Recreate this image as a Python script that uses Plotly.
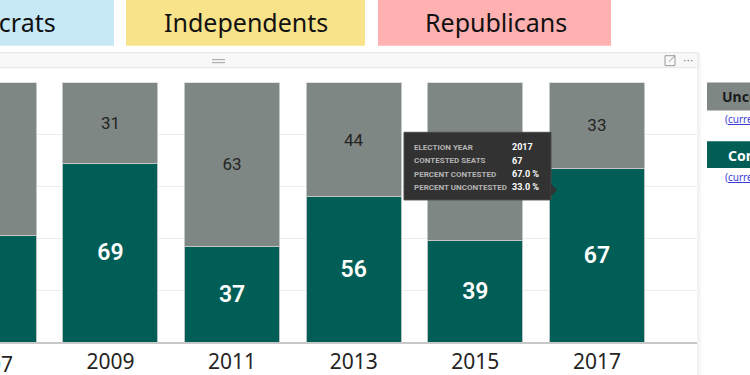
import plotly.graph_objects as go

# ---- data ----
years = [2007, 2009, 2011, 2013, 2015, 2017]
year_labels = ["2007", "2009", "2011", "2013", "2015", "2017"]
contested = [41, 69, 37, 56, 39, 67]
uncontested = [59, 31, 63, 44, 61, 33]
party_labels = ["Democrats", "Independents", "Republicans"]
legend_labels = ["Uncontested", "Contested"]
tooltip_fields = ["ELECTION YEAR", "CONTESTED SEATS", "PERCENT CONTESTED", "PERCENT UNCONTESTED"]

GREEN = "#015e56"
GREY = "#7f8785"
W, H = 750, 375

def px(x):
    return x / W

def py(y):
    return 1 - y / H

x_range = [2007.183, 2018.646]
x_dom = [0, 697 / W]
y_dom = [(H - 344) / H, (H - 83) / H]

fig = go.Figure()
fig.add_trace(go.Bar(
    x=years, y=contested, width=1.5625,
    marker=dict(color=GREEN, line=dict(width=1, color="#b9c4c2")),
    text=[str(v) for v in contested], textposition="inside", insidetextanchor="middle",
    textangle=0, textfont=dict(family="Roboto", size=23, color="white", weight=600),
    hoverinfo="skip", name=legend_labels[1],
))
fig.add_trace(go.Bar(
    x=years, y=uncontested, width=1.5625,
    marker=dict(color=GREY, line=dict(width=1, color="#c3c7c6")),
    text=[str(v) for v in uncontested], textposition="inside", insidetextanchor="middle",
    textangle=0, textfont=dict(family="Roboto", size=17, color="#252423"),
    hoverinfo="skip", name=legend_labels[0],
))

shapes = []
annotations = []

# party header boxes
boxes = [(-126, 114, "#c6e9f5"), (126, 365, "#f8e38a"), (378, 611, "#ffb1b1")]
for (x0, x1, c) in boxes:
    shapes.append(dict(type="rect", xref="paper", yref="paper", x0=px(x0), x1=px(x1),
                       y0=py(46), y1=py(-2), fillcolor=c, line=dict(width=0), layer="below"))
hdr_font = dict(family="Noto Sans", size=25, color="#111")
annotations.append(dict(text=party_labels[0], xref="paper", yref="paper", x=px(58), y=py(22),
                        xanchor="right", yanchor="middle", showarrow=False, font=hdr_font))
annotations.append(dict(text=party_labels[1], xref="paper", yref="paper", x=px(246), y=py(22),
                        xanchor="center", yanchor="middle", showarrow=False, font=hdr_font))
annotations.append(dict(text=party_labels[2], xref="paper", yref="paper", x=px(496), y=py(22),
                        xanchor="center", yanchor="middle", showarrow=False, font=hdr_font))

# visual container
shapes.append(dict(type="rect", xref="paper", yref="paper", x0=px(-3), x1=px(698), y0=py(380), y1=py(53),
                   fillcolor="rgba(0,0,0,0)", line=dict(width=1, color="#e6e6e6"), layer="below"))
shapes.append(dict(type="rect", xref="paper", yref="paper", x0=px(-3), x1=px(698), y0=py(68), y1=py(53),
                   fillcolor="#f8f8f8", line=dict(width=1, color="#e6e6e6"), layer="below"))
# grip icon
for yy in (60, 63):
    shapes.append(dict(type="line", xref="paper", yref="paper", x0=px(212), x1=px(225), y0=py(yy), y1=py(yy),
                       line=dict(width=1, color="#a0a0a0")))
# focus icon
shapes.append(dict(type="rect", xref="paper", yref="paper", x0=px(665), x1=px(675), y0=py(66), y1=py(56),
                   line=dict(width=1, color="#9a9a9a"), fillcolor="rgba(0,0,0,0)"))
shapes.append(dict(type="line", xref="paper", yref="paper", x0=px(669), x1=px(675), y0=py(62), y1=py(56),
                   line=dict(width=1, color="#9a9a9a")))
annotations.append(dict(text="···", xref="paper", yref="paper", x=px(688), y=py(61),
                        xanchor="center", yanchor="middle", showarrow=False,
                        font=dict(family="DejaVu Sans", size=11, color="#777")))

# right-side panel
shapes.append(dict(type="line", xref="paper", yref="paper", x0=px(700), x1=px(700), y0=py(53), y1=py(380),
                   line=dict(width=1, color="#eeeeee")))
shapes.append(dict(type="rect", xref="paper", yref="paper", x0=px(707), x1=px(770), y0=py(111), y1=py(83),
                   fillcolor=GREY, line=dict(width=0)))
shapes.append(dict(type="rect", xref="paper", yref="paper", x0=px(707), x1=px(770), y0=py(169), y1=py(142),
                   fillcolor=GREEN, line=dict(width=0)))
annotations.append(dict(text="<b>" + legend_labels[0] + "</b>", xref="paper", yref="paper", x=px(720), y=py(97),
                        xanchor="left", yanchor="middle", showarrow=False,
                        font=dict(family="Noto Sans", size=14, color="#1a1a1a")))
annotations.append(dict(text="<b>" + legend_labels[1] + "</b>", xref="paper", yref="paper", x=px(726), y=py(156),
                        xanchor="left", yanchor="middle", showarrow=False,
                        font=dict(family="Noto Sans", size=14, color="white")))
for yy in (120, 178):
    annotations.append(dict(text="(<u>current year</u>)", xref="paper", yref="paper", x=px(723), y=py(yy),
                            xanchor="left", yanchor="middle", showarrow=False,
                            font=dict(family="Noto Sans", size=10, color="#3b3bd6")))

# 2007 tick label (left of the visible range)
x07 = x_dom[0] + (years[0] - x_range[0]) / (x_range[1] - x_range[0]) * (x_dom[1] - x_dom[0])
annotations.append(dict(text=year_labels[0], xref="paper", yref="paper", x=x07, y=py(366),
                        xanchor="center", yanchor="middle", showarrow=False,
                        font=dict(family="Noto Sans", size=21, color="#252423")))

# tooltip for 2017
i = years.index(2017)
vals = [str(years[i]), str(contested[i]), f"{contested[i]:.1f} %", f"{uncontested[i]:.1f} %"]
shapes.append(dict(type="rect", xref="paper", yref="paper", x0=px(404), x1=px(551), y0=py(201), y1=py(133),
                   fillcolor="#323232", line=dict(width=1, color="#4a4a4a")))
shapes.append(dict(type="path", xref="paper", yref="paper",
                   path=f"M {px(551)} {py(185)} L {px(557)} {py(191)} L {px(551)} {py(197)} Z",
                   fillcolor="#323232", line=dict(width=0)))
row_y = [148, 161.5, 175, 188.5]
for lab, v, yy in zip(tooltip_fields, vals, row_y):
    annotations.append(dict(text=lab, xref="paper", yref="paper", x=px(412), y=py(yy),
                            xanchor="left", yanchor="middle", showarrow=False,
                            font=dict(family="Roboto", size=8, color="#b4b4b4", weight="bold")))
    annotations.append(dict(text="<b>" + v + "</b>", xref="paper", yref="paper", x=px(510), y=py(yy),
                            xanchor="left", yanchor="middle", showarrow=False,
                            font=dict(family="Roboto", size=9, color="white")))

fig.update_layout(
    width=W, height=H, margin=dict(l=0, r=0, t=0, b=0),
    paper_bgcolor="white", plot_bgcolor="white",
    barmode="stack", showlegend=False,
    shapes=shapes, annotations=annotations,
    xaxis=dict(domain=x_dom, range=x_range, tickvals=years, ticktext=year_labels,
               showgrid=False, showline=True, linecolor="#c8c8c8", linewidth=2,
               ticks="", tickfont=dict(family="Noto Sans", size=21, color="#252423"),
               fixedrange=True),
    yaxis=dict(domain=y_dom, range=[0, 100], tickvals=[0, 20, 40, 60, 80, 100],
               showticklabels=False, showgrid=True, gridcolor="#ececec", gridwidth=1,
               zeroline=False, fixedrange=True),
)

fig.write_html("out.html", config={"displayModeBar": False},
               post_script="document.body.style.margin='0';document.body.style.overflow='hidden';")
